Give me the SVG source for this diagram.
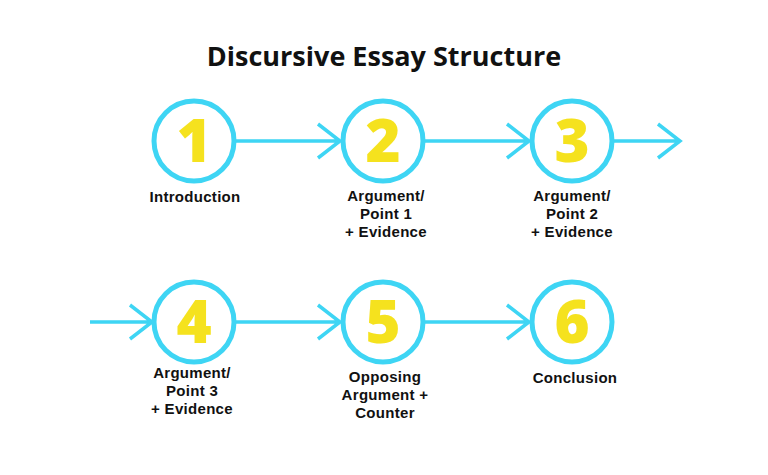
<svg xmlns="http://www.w3.org/2000/svg" width="768" height="475" viewBox="0 0 768 475">
<style>
.c{fill:none;stroke:#3ED5F4;stroke-width:5}
.n{font-family:"Open Sans","Liberation Sans",sans-serif;font-weight:800;font-size:60px;fill:#F5E21E;text-anchor:middle}
.l{font-family:"Liberation Sans",sans-serif;font-weight:700;font-size:15px;fill:#111;text-anchor:middle;letter-spacing:0.3px}
.a{fill:none;stroke:#3ED5F4;stroke-width:3.5}
</style>
<rect width="768" height="475" fill="#fff"/>
<text x="384" y="66" font-family="'Open Sans','Liberation Sans',sans-serif" font-weight="700" font-size="27" fill="#111" text-anchor="middle">Discursive Essay Structure</text>
<g id="connectors">
<path class="a" d="M236 141H340M318 124L340 141L318 158"/>
<path class="a" d="M425 141H529M507 124L529 141L507 158"/>
<path class="a" d="M614 141H680M658 124L680 141L658 158"/>
<path class="a" d="M90 322H152M130 305L152 322L130 339"/>
<path class="a" d="M236 322H340M318 305L340 322L318 339"/>
<path class="a" d="M425 322H529M507 305L529 322L507 339"/>
</g>
<g id="n1"><circle class="c" cx="194" cy="141" r="40"/><text class="n" x="194" y="162">1</text><text class="l" x="195" y="202">Introduction</text></g>
<g id="n2"><circle class="c" cx="383" cy="141" r="40"/><text class="n" x="383" y="162">2</text><text class="l" x="386" y="201">Argument/</text><text class="l" x="386" y="219">Point 1</text><text class="l" x="386" y="237">+ Evidence</text></g>
<g id="n3"><circle class="c" cx="572" cy="141" r="40"/><text class="n" x="572" y="162">3</text><text class="l" x="572" y="201">Argument/</text><text class="l" x="572" y="219">Point 2</text><text class="l" x="572" y="237">+ Evidence</text></g>
<g id="n4"><circle class="c" cx="194" cy="322" r="40"/><text class="n" x="194" y="343">4</text><text class="l" x="192" y="378">Argument/</text><text class="l" x="192" y="396">Point 3</text><text class="l" x="192" y="414">+ Evidence</text></g>
<g id="n5"><circle class="c" cx="383" cy="322" r="40"/><text class="n" x="383" y="343">5</text><text class="l" x="385" y="382">Opposing</text><text class="l" x="385" y="400">Argument +</text><text class="l" x="385" y="418">Counter</text></g>
<g id="n6"><circle class="c" cx="572" cy="322" r="40"/><text class="n" x="572" y="343">6</text><text class="l" x="575" y="383">Conclusion</text></g>
</svg>
